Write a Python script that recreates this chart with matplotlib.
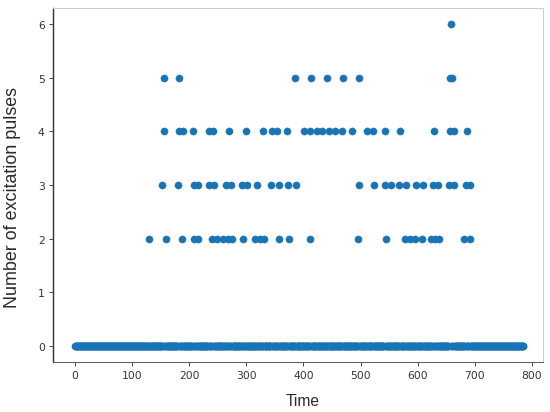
import numpy as np
import matplotlib
matplotlib.use("Agg")
import matplotlib.pyplot as plt

# --- data ---
# time runs in whole steps from 0 to 785; every step not listed below has 0 pulses
T_END = 785
times_2 = [130, 159, 188, 208, 215, 240, 248, 260, 268, 275, 294, 315, 324, 331,
           358, 375, 412, 496, 544, 578, 586, 596, 607, 623, 631, 638, 681, 692]
times_3 = [153, 180, 209, 216, 234, 244, 264, 273, 292, 301, 318, 344, 357, 373,
           387, 498, 524, 542, 553, 568, 580, 597, 609, 627, 635, 655, 664, 684, 691]
times_4 = [156, 182, 189, 207, 235, 241, 270, 300, 330, 345, 353, 371, 401, 411,
           423, 433, 444, 455, 467, 485, 511, 522, 543, 569, 628, 657, 663, 686]
times_5 = [155, 183, 385, 413, 441, 470, 497, 656, 660]
times_6 = [658]

x_ticks = [0, 100, 200, 300, 400, 500, 600, 700, 800]
y_ticks = [0, 1, 2, 3, 4, 5, 6]

time = np.arange(0, T_END + 1)
pulses = np.zeros(len(time), dtype=int)
for level, ts in [(2, times_2), (3, times_3), (4, times_4), (5, times_5), (6, times_6)]:
    pulses[ts] = level

fig = plt.figure(figsize=(550 / 86, 413 / 86), dpi=86)
ax = fig.add_axes([53 / 550, 1 - 362.7 / 413, (542.7 - 53) / 550, (362.7 - 9.3) / 413])

ax.scatter(time, pulses, s=36, color="#1874b5", linewidths=0.4, edgecolors="#1874b5")

ax.set_xlim(-38.5, 819)
ax.set_ylim(-0.3, 6.3)
ax.set_xticks(x_ticks)
ax.set_yticks(y_ticks)
ax.tick_params(labelsize=9, colors="#444444", labelcolor="#333333", length=3.5, width=0.8)

ax.spines["left"].set_color("#333333")
ax.spines["left"].set_linewidth(1.2)
ax.spines["bottom"].set_color("#555555")
ax.spines["top"].set_color("#cccccc")
ax.spines["right"].set_color("#cccccc")

# axis titles placed by hand
fig.text(303 / 550, 1 - 406 / 413, "Time", ha="center", va="baseline",
         fontsize=13, family="Liberation Sans", color="#2a2a2a")
fig.text(13 / 550, 1 - 198 / 413, "Number of excitation pulses", rotation=90,
         ha="center", va="center", fontsize=15, family="Liberation Sans", color="#2a2a2a")

fig.savefig("out.png", dpi=86)
